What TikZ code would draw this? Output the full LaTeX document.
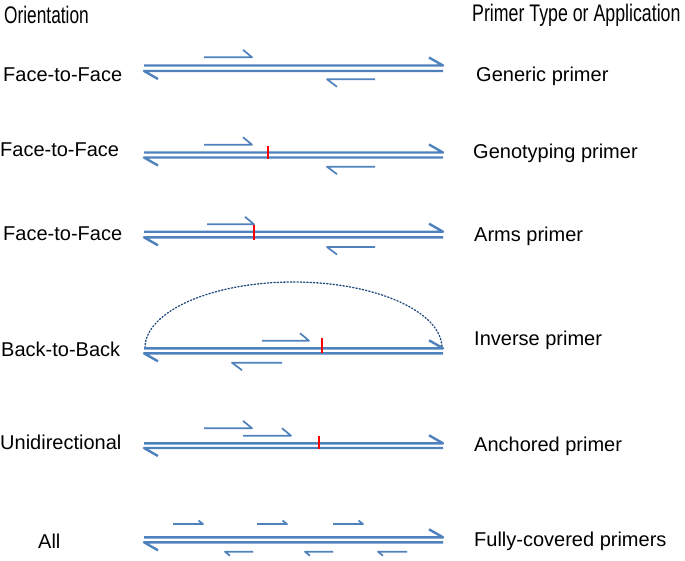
\documentclass[tikz,border=0pt]{standalone}
\usepackage{fontspec}
\setmainfont{Liberation Sans}
\definecolor{dnablue}{HTML}{4F81BD}
\definecolor{loopblue}{HTML}{1F497D}

\tikzset{
  strand/.style={dnablue, line width=2.4pt, line join=round},
  primer/.style={dnablue, line width=1.7pt, line join=round},
  snp/.style={red, line width=1.6pt},
  rowtext/.style={anchor=base west, inner sep=0pt, font=\fontsize{20}{24}\selectfont},
  headtext/.style={anchor=base west, inner sep=0pt, font=\fontsize{24}{28}\selectfont},
}

\begin{document}
\begin{tikzpicture}[x=1pt, y=-1pt]
\useasboundingbox (0,0) rectangle (685,560);

\node[headtext] (orientHead) at (4,23) {\scalebox{0.72}[1]{Orientation}};
\node[headtext] (typeHead) at (472,21) {\scalebox{0.74}[1]{Primer Type or Application}};

% generic
\node[rowtext] (orientA) at (3,81.7) {Face-to-Face};
\node[rowtext] (typeA) at (476,81.7) {Generic primer};
\draw[strand] (144,65.5) -- (443,65.5) -- ++(-14,-8);
\draw[strand] (443,71) -- (144,71) -- ++(14,8);
\draw[primer] (204,57.3) -- (252,57.3) -- ++(-9,-7.5);
\draw[primer] (375,79.3) -- (327,79.3) -- ++(10,7.5);

% genotyping
\node[rowtext] (orientB) at (0,156.7) {Face-to-Face};
\node[rowtext] (typeB) at (473,158) {Genotyping primer};
\draw[strand] (144,152.5) -- (443,152.5) -- ++(-14,-8);
\draw[strand] (443,157.5) -- (144,157.5) -- ++(14,8);
\draw[primer] (204,144.7) -- (252,144.7) -- ++(-9,-7.5);
\draw[primer] (375,166.7) -- (327,166.7) -- ++(10,7.5);
\draw[snp] (268,146) -- (268,159);

% arms
\node[rowtext] (orientC) at (3,240.7) {Face-to-Face};
\node[rowtext] (typeC) at (474,241) {Arms primer};
\draw[strand] (144,231.7) -- (443,231.7) -- ++(-14,-8);
\draw[strand] (443,237.3) -- (144,237.3) -- ++(14,8);
\draw[primer] (207,224.3) -- (254,224.3) -- ++(-9,-7.5);
\draw[primer] (375,247) -- (327,247) -- ++(10,7.5);
\draw[snp] (254,225) -- (254,240);

% inverse
\node[rowtext] (orientD) at (1,356.7) {Back-to-Back};
\node[rowtext] (typeD) at (474,345.7) {Inverse primer};
\draw[loopblue, dotted, line width=1.3pt, line cap=round] (145,348) arc[start angle=180, end angle=360, x radius=148.5, y radius=66];
\draw[strand] (144,348.3) -- (443,348.3) -- ++(-14,-8);
\draw[strand] (443,353.3) -- (144,353.3) -- ++(14,8);
\draw[primer] (262,340.7) -- (309,340.7) -- ++(-9,-7.5);
\draw[primer] (282,362.7) -- (232,362.7) -- ++(10,7.5);
\draw[snp] (322,338) -- (322,353);

% anchored
\node[rowtext] (orientE) at (0,449) {Unidirectional};
\node[rowtext] (typeE) at (474,451.7) {Anchored primer};
\draw[strand] (144,443.3) -- (443,443.3) -- ++(-14,-8);
\draw[strand] (443,448) -- (144,448) -- ++(14,8);
\draw[primer] (204,428.3) -- (252,428.3) -- ++(-9,-7.5);
\draw[primer] (243,435.7) -- (291,435.7) -- ++(-9,-7.5);
\draw[snp] (319,436) -- (319,449);

% fully covered
\node[rowtext] (orientF) at (38,548.3) {All};
\node[rowtext] (typeF) at (474,546.7) {Fully-covered primers};
\draw[strand] (144,537.3) -- (443,537.3) -- ++(-14,-8);
\draw[strand] (443,542.3) -- (144,542.3) -- ++(14,8);
\draw[primer] (173,524) -- (203,524) -- ++(-4.5,-3.5);
\draw[primer] (257,524) -- (287,524) -- ++(-4.5,-3.5);
\draw[primer] (333,524) -- (363,524) -- ++(-4.5,-3.5);
\draw[primer] (253,551.7) -- (225,551.7) -- ++(5,4);
\draw[primer] (333,551.7) -- (305,551.7) -- ++(5,4);
\draw[primer] (407,551.7) -- (378,551.7) -- ++(5,4);

\end{tikzpicture}
\end{document}
